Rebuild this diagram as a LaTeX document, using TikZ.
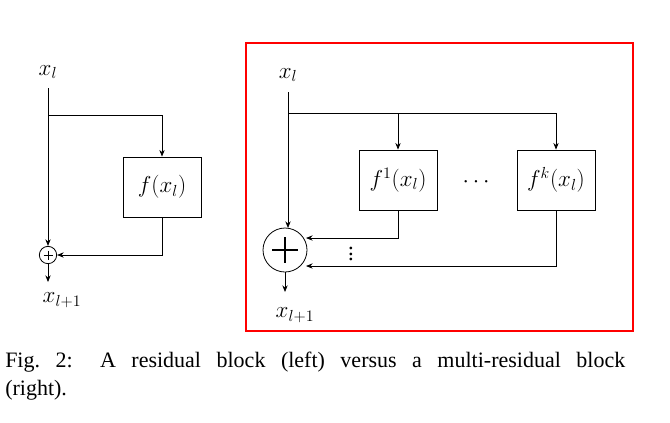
\documentclass[tikz,border=0pt]{standalone}
\usepackage{fontspec}
\setmainfont{Liberation Serif}
\usetikzlibrary{arrows.meta}
\begin{document}
\begin{tikzpicture}[x=0.75pt,y=-0.75pt,
  line/.style={line width=0.6pt},
  arr/.style={line,-{Stealth[length=5pt,width=4pt]}},
  box/.style={draw,line width=0.6pt,minimum width=58.5pt,minimum height=45pt,inner sep=0pt,font=\fontsize{17}{19}\selectfont},
  lab/.style={font=\fontsize{17}{19}\selectfont,inner sep=1pt}]
\useasboundingbox (0,0) rectangle (670,422);
% left
\node[lab] (xl) at (48,72) {$x_l$};
\coordinate (b1) at (48,115);
\node[box] (f) at (162,187) {$f(x_l)$};
\node[draw,circle,line width=0.6pt,minimum size=13pt,inner sep=0pt] (p) at (48,255) {};
\draw[line] (p.center)++(-4.5,0) -- ++(9,0) (p.center)++(0,-4.5) -- ++(0,9);
\coordinate (o1) at (48,282);
\node[lab] (xo) at (62,300) {$x_{l+1}$};
\draw[arr] (48,88) -- (p);
\draw[arr] (b1) -| (f.north);
\draw[arr] (f.south) |- (p.east);
\draw[arr] (p.south) -- (o1);
% right
\node[draw=red,line width=1.2pt,minimum width=290.25pt,minimum height=216pt,inner sep=0pt] (frame) at (439.5,187) {};
\node[lab] (xr) at (288,75) {$x_l$};
\coordinate (b2) at (288,113);
\node[box] (f1) at (398,180) {$f^1(x_l)$};
\node[box] (fk) at (556,180) {$f^k(x_l)$};
\node[lab] (hd) at (476,182) {$\cdots$};
\node[draw,circle,line width=0.6pt,minimum size=33pt,inner sep=0pt] (P) at (285,250) {};
\draw[line,line width=0.8pt] (P.center)++(-13,0) -- ++(26,0) (P.center)++(0,-13) -- ++(0,26);
\node[lab] (vd) at (351,250) {$\vdots$};
\coordinate (o2) at (285,292);
\node[lab] (xro) at (295,315) {$x_{l+1}$};
\draw[arr] (288,92) -- (288,228);
\draw[arr] (b2) -| (f1.north);
\draw[arr] (b2) -| (fk.north);
\draw[arr] (f1.south) |- (306,238);
\draw[arr] (fk.south) |- (306,266);
\draw[arr] (P.south) -- (o2);
% caption
\node[anchor=north west,text width=465pt,align=justify,inner sep=0pt,font=\fontsize{16.5}{21}\selectfont] (cap) at (5,352)
 {\hyphenpenalty=10000 Fig.~2: A residual block (left) versus a multi-residual block\linebreak (right).};
\end{tikzpicture}
\end{document}
